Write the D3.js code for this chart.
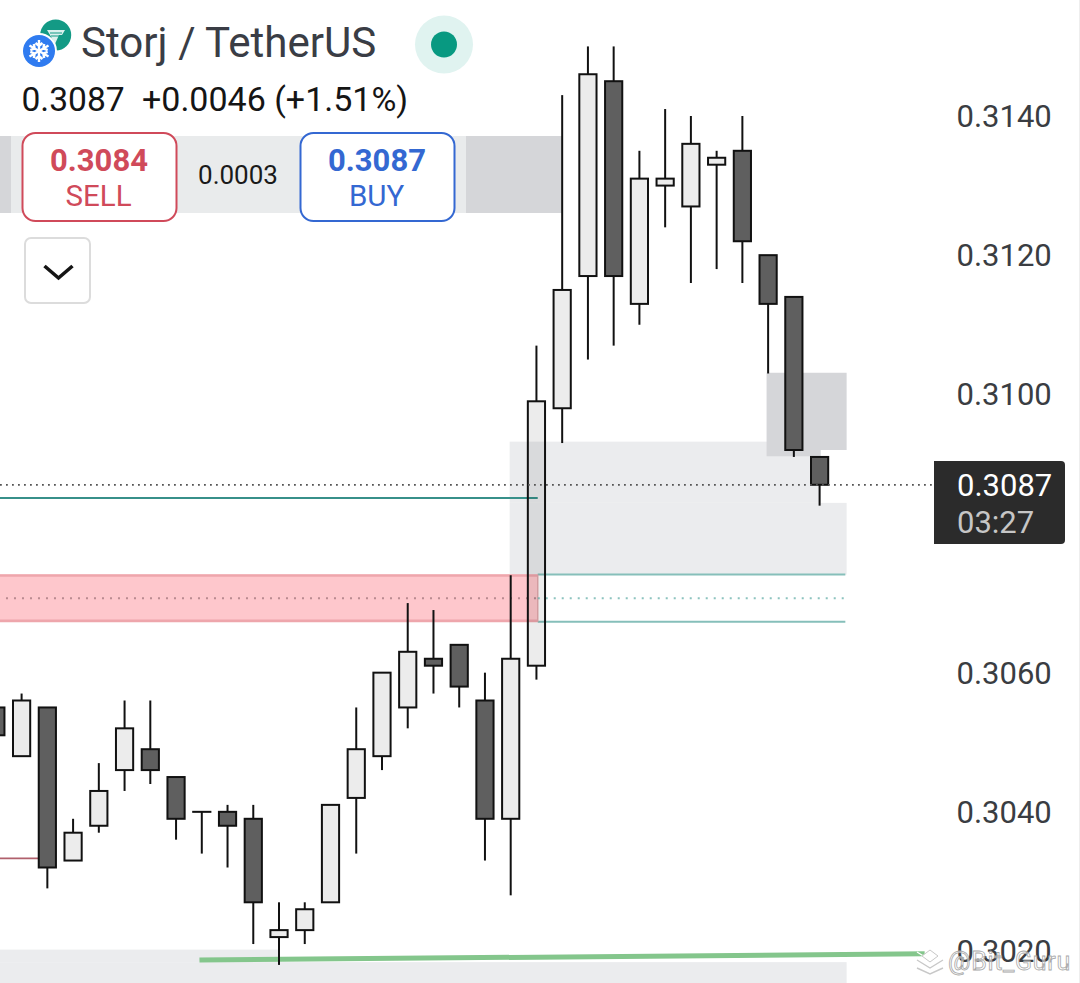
<!DOCTYPE html>
<html><head><meta charset="utf-8">
<script src="https://cdnjs.cloudflare.com/ajax/libs/d3/7.8.5/d3.min.js"></script>
<style>html,body{margin:0;padding:0;background:#fff;overflow:hidden}svg{display:block}text{font-family:Roboto,sans-serif}</style>
</head><body><svg id="c" width="1080" height="983"></svg>
<script>
// ---- data ----
const opens  = [.3055,.3048,.3055,.3033,.3038,.3046,.3049,.3045,.3040,.3040,.3039,.3022,.3023,.3027,.3042,.3048,.3055,.3062,.3064,.3056,.3039,.3061,.3098,.3117,.3145,.3113,.3130,.3127,.3133,.3135,.3120,.3114,.3091];
const highs  = [.3055,.3057,.3055,.3039,.3047,.3056,.3056,.3045,.3040,.3041,.3041,.3027,.3027,.3041,.3055,.3060,.3070,.3069,.3064,.3060,.3074,.3107,.3143,.3150,.3150,.3135,.3141,.3140,.3135,.3140,.3120,.3114,.3091];
const lows   = [.3051,.3048,.3029,.3033,.3037,.3043,.3044,.3036,.3034,.3032,.3021,.3018,.3021,.3027,.3034,.3046,.3052,.3057,.3055,.3033,.3028,.3059,.3093,.3105,.3107,.3110,.3124,.3116,.3118,.3116,.3103,.3091,.3084];
const closes = [.3051,.3056,.3032,.3037,.3043,.3052,.3046,.3039,.3040,.3038,.3027,.3023,.3026,.3041,.3049,.3060,.3063,.3061,.3058,.3039,.3062,.3099,.3115,.3146,.3117,.3131,.3131,.3136,.3134,.3122,.3113,.3092,.3087];
const yTicks = [.3020,.3040,.3060,.3080,.3100,.3120,.3140];
const lastPrice = .3087, bid = .3084, ask = .3087, spread = .0003;
const title = "Storj / TetherUS", change = "+0.0046 (+1.51%)", countdown = "03:27", watermark = "@Bit_Guru";
// zones: [first index, last index, top price, bottom price]
const lightZones = [[19.96,32.04,.30932,.30844],[19.96,33.05,.30844,.30741],[-0.85,10.98,.30202,.30184],[-0.85,33.05,.30184,.30154]];
const darkZones  = [[29.94,33.05,.31031,.30920],[29.94,32.04,.30920,.30911]];
const redZone    = [-0.85,21.05,.30741,.30673];
const redMid = .30707, tealLevel = .30851, maroonLevel = .30333;
const greenLine = [[7.91,.30187],[36.08,.30196]];

// ---- scales ----
const svg = d3.select("#c");
const x = d3.scaleLinear().domain([1,32]).range([21.6,819.6]);
const y = d3.scaleLinear().domain([.3020,.3140]).range([951,116]);
const candles = opens.map((o,i)=>({i,o,h:highs[i],l:lows[i],c:closes[i]}));
const GREY="#ebecee", DGREY="#d5d6d9";

// top bar bands
svg.append("rect").attr("x",0).attr("y",136).attr("width",562).attr("height",77).attr("fill",DGREY);
svg.append("rect").attr("x",11).attr("y",136).attr("width",455).attr("height",77).attr("fill","#e9ebec");

// zones
const zoneRect=(g,z,f)=>g.append("rect").attr("x",x(z[0])).attr("width",x(z[1])-x(z[0])).attr("y",y(z[2])).attr("height",y(z[3])-y(z[2])).attr("fill",f);
lightZones.forEach(z=>zoneRect(svg,z,GREY));
darkZones.forEach(z=>zoneRect(svg,z,DGREY));
zoneRect(svg,redZone,"#fec7cc");
[[redZone[2],1],[redZone[3],-1]].forEach(([p,o])=>svg.append("line").attr("x1",x(redZone[0])).attr("x2",x(redZone[1])).attr("y1",y(p)+o).attr("y2",y(p)+o).attr("stroke","#eea6ac").attr("stroke-width",2.6));
[redZone[2],redZone[3]].forEach(p=>svg.append("line").attr("x1",x(redZone[1])).attr("x2",x(33)).attr("y1",y(p)).attr("y2",y(p)).attr("stroke","#86bfba").attr("stroke-width",2));
svg.append("line").attr("x1",x(redZone[1])).attr("x2",x(redZone[1])).attr("y1",y(redZone[2])).attr("y2",y(redZone[3])).attr("stroke","#e3a9ad").attr("stroke-width",1.5);
svg.append("line").attr("x1",x(redZone[0])).attr("x2",x(redZone[1])).attr("y1",y(redMid)).attr("y2",y(redMid)).attr("stroke","#b98a90").attr("stroke-width",2).attr("stroke-dasharray","2 6");
svg.append("line").attr("x1",x(redZone[1])).attr("x2",x(33)).attr("y1",y(redMid)).attr("y2",y(redMid)).attr("stroke","#8cc3be").attr("stroke-width",2).attr("stroke-dasharray","2 6");
svg.append("line").attr("x1",x(-0.85)).attr("x2",x(redZone[1])).attr("y1",y(tealLevel)).attr("y2",y(tealLevel)).attr("stroke","#37908a").attr("stroke-width",1.8);
svg.append("line").attr("x1",x(-0.85)).attr("x2",x(2)).attr("y1",y(maroonLevel)).attr("y2",y(maroonLevel)).attr("stroke","#b0606c").attr("stroke-width",1.8);

// green trend line
svg.append("path").attr("d",d3.line().x(d=>x(d[0])).y(d=>y(d[1]))(greenLine)).attr("fill","none").attr("stroke","#84c68c").attr("stroke-width",5);

// candles
const INK="#111";
const g = svg.append("g");
const cs = g.selectAll("g").data(candles).join("g");
cs.append("line").attr("x1",d=>x(d.i)).attr("x2",d=>x(d.i)).attr("y1",d=>y(d.h)).attr("y2",d=>y(Math.max(d.o,d.c))).attr("stroke",INK).attr("stroke-width",2);
cs.append("line").attr("x1",d=>x(d.i)).attr("x2",d=>x(d.i)).attr("y1",d=>y(Math.min(d.o,d.c))).attr("y2",d=>y(d.l)).attr("stroke",INK).attr("stroke-width",2);
cs.append("rect").attr("x",d=>x(d.i)-8.6).attr("width",17.2)
  .attr("y",d=>y(Math.max(d.o,d.c))).attr("height",d=>Math.max(.01,Math.abs(y(d.o)-y(d.c))))
  .attr("fill",d=>d.c>=d.o?"#000":"#5f5f5f").attr("fill-opacity",d=>d.c>=d.o?.075:1)
  .attr("stroke",INK).attr("stroke-width",2);

// last price dotted line
svg.append("line").attr("x1",0).attr("x2",934).attr("y1",y(lastPrice)).attr("y2",y(lastPrice)).attr("stroke","#555").attr("stroke-width",1.7).attr("stroke-dasharray","1.8 4.2");

// axis
const axis = svg.append("g").attr("transform","translate(956.5,0.5)").call(d3.axisRight(y).tickValues(yTicks).tickFormat(d3.format(".4f")).tickSize(0).tickPadding(0));
axis.select(".domain").remove();
axis.selectAll("text").attr("font-size",31).attr("font-family","Roboto").attr("fill","#3a3d42");
svg.append("line").attr("x1",1079.5).attr("x2",1079.5).attr("y1",0).attr("y2",983).attr("stroke","#eeeeee");

// price label
svg.append("path").attr("d","M934 461H1061a4 4 0 0 1 4 4V540a4 4 0 0 1 -4 4H934Z").attr("fill","#2b2b2b");
svg.append("text").attr("x",957).attr("y",496).attr("font-size",31).attr("fill","#fff").text(d3.format(".4f")(lastPrice));
svg.append("text").attr("x",957).attr("y",533).attr("font-size",31).attr("fill","#c6c6c6").text(countdown);

// header
svg.append("circle").attr("cx",55.7).attr("cy",35).attr("r",15.5).attr("fill","#139a85");
svg.append("path").attr("d","M47 30H65L62 35H59L55 44L50 35Z").attr("fill","#fff").attr("opacity",.85);
svg.append("path").attr("d","M50 33H62M51 36H60").attr("stroke","#139a85").attr("stroke-width",1.2);
svg.append("circle").attr("cx",39).attr("cy",51).attr("r",18).attr("fill","#fff");
svg.append("circle").attr("cx",39).attr("cy",51).attr("r",16).attr("fill","#2f7bf0");
const flake = svg.append("g").attr("transform","translate(39,51)");
d3.range(6).forEach(k=>flake.append("path").attr("transform",`rotate(${k*60})`).attr("d","M0 0V-11M-3.5 -8L0 -5L3.5 -8").attr("stroke","#fff").attr("stroke-width",2.4).attr("fill","none"));
svg.append("text").attr("x",81).attr("y",57).attr("font-size",42.1).attr("fill","#3a3d45").text(title);
svg.append("circle").attr("cx",444).attr("cy",44.5).attr("r",29).attr("fill","#e0f3f0");
svg.append("circle").attr("cx",444).attr("cy",44.5).attr("r",13).attr("fill","#089981");
svg.append("text").attr("x",21.5).attr("y",111).attr("font-size",33.6).attr("fill","#151515").text(d3.format(".4f")(lastPrice));
svg.append("text").attr("x",142).attr("y",111).attr("font-size",34).attr("fill","#151515").text(change);

// buttons
const button=(bx,col,val,lab)=>{
  svg.append("rect").attr("x",bx).attr("y",133).attr("width",154).attr("height",88).attr("rx",13).attr("fill","#fff").attr("stroke",col).attr("stroke-width",2);
  svg.append("text").attr("x",bx+76.5).attr("y",171).attr("text-anchor","middle").attr("font-size",31).attr("font-weight",700).attr("fill",col).text(d3.format(".4f")(val));
  svg.append("text").attr("x",bx+76).attr("y",206).attr("text-anchor","middle").attr("font-size",29.5).attr("fill",col).text(lab);
};
button(22.5,"#d04a5a",bid,"SELL");
button(300.5,"#3468d2",ask,"BUY");
svg.append("text").attr("x",238).attr("y",184).attr("text-anchor","middle").attr("font-size",26).attr("fill","#1a1a1a").text(d3.format(".4f")(spread));
svg.append("rect").attr("x",25).attr("y",238).attr("width",65).attr("height",65).attr("rx",6).attr("fill","#fff").attr("stroke","#dcdcdc").attr("stroke-width",2);
svg.append("path").attr("d","M44.5 266L58.5 278L72.5 266").attr("fill","none").attr("stroke","#151515").attr("stroke-width",3.6);

// watermark
[[930,952],[930,960],[930,968]].forEach(([a,b],k)=>svg.append("path").attr("d",`M${a-13} ${b}L${a} ${b+(k==2?6:8)}L${a+13} ${b}`).attr("fill","none").attr("stroke",k==0?"#fff":"#c8c8c8").attr("stroke-width",1.4));
svg.append("path").attr("d","M930 950L938 956L930 962L922 956Z").attr("fill","#fff").attr("stroke","#c8c8c8");
svg.append("text").attr("x",948).attr("y",970).attr("font-size",25).attr("letter-spacing",.7).attr("fill","#fff").attr("fill-opacity",.55).attr("stroke","#a8a8a8").attr("stroke-width",.8).text(watermark);
</script></body></html>
